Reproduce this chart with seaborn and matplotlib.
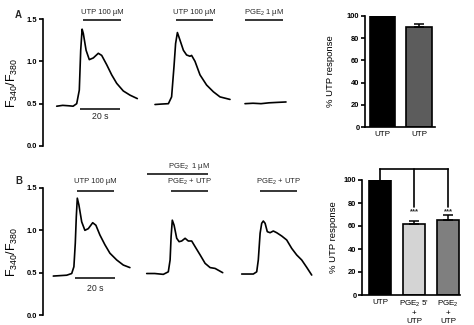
import numpy as np
import pandas as pd
import matplotlib
matplotlib.use("Agg")
import matplotlib.pyplot as plt
import seaborn as sns

# ---------------- data ----------------
# Calcium traces: time (s, relative to trace onset) and F340/F380 ratio
a1_t = [0, 3, 6, 8.2, 10, 11.3, 12, 12.7, 13.3, 14.7, 16.3, 18.3, 20.8, 22.5, 25, 27.5, 30, 33.3, 36.7, 40.3]
a1_v = [0.47, 0.48, 0.475, 0.47, 0.50, 0.66, 1.13, 1.38, 1.33, 1.13, 1.02, 1.04, 1.095, 1.07, 0.96, 0.84, 0.74, 0.65, 0.60, 0.56]
a2_t = [0, 3, 6.7, 8.3, 9.5, 10.3, 11.2, 12.5, 14.2, 15.8, 17.5, 18.3, 20, 22.5, 25.8, 29.2, 32.5, 37.5]
a2_v = [0.49, 0.495, 0.50, 0.58, 0.94, 1.21, 1.34, 1.25, 1.13, 1.075, 1.06, 1.07, 1.0, 0.84, 0.72, 0.64, 0.58, 0.55]
a3_t = [0, 4, 8, 12, 16, 20.5]
a3_v = [0.50, 0.505, 0.50, 0.51, 0.515, 0.52]

b1_t = [0, 6.7, 9.2, 10.3, 11, 11.5, 12, 12.8, 14.2, 15.8, 17.5, 19.7, 21.3, 23.3, 25.8, 28.3, 31.7, 35, 38.3]
b1_v = [0.46, 0.47, 0.49, 0.57, 0.85, 1.16, 1.38, 1.30, 1.10, 1.0, 1.02, 1.09, 1.06, 0.945, 0.83, 0.73, 0.65, 0.59, 0.56]
b2_t = [0, 4, 8.3, 10.8, 11.7, 12.2, 12.8, 13.7, 15, 16.2, 17.5, 19.2, 20.8, 22.5, 24.2, 26.7, 29.2, 31.7, 34.2, 38]
b2_v = [0.49, 0.49, 0.48, 0.51, 0.65, 0.925, 1.12, 1.06, 0.906, 0.866, 0.874, 0.906, 0.874, 0.874, 0.807, 0.71, 0.61, 0.56, 0.55, 0.50]
b3_t = [0, 5.8, 7.5, 8.3, 9.2, 10, 10.8, 11.7, 12.8, 14.2, 15.8, 17.5, 20, 22.5, 25, 27.5, 30, 32.5, 35]
b3_v = [0.484, 0.484, 0.51, 0.65, 0.965, 1.083, 1.11, 1.083, 0.984, 0.972, 0.992, 0.972, 0.933, 0.886, 0.787, 0.709, 0.65, 0.563, 0.472]

# onset of each trace on the shared time axis (s)
onset_A = [6.85, 56.0, 101.0]
onset_B = [5.15, 51.85, 99.35]

# stimulus application periods (s on the shared axis)
stimA_start = [20.0, 66.5, 101.0]
stimA_end = [39.0, 85.0, 120.0]
stimA_label = ["UTP 100 µM", "UTP 100 µM", "PGE$_2$ 1 µM"]
stimB_start = [17.0, 64.0, 108.5]
stimB_end = [35.5, 82.5, 127.0]
stimB_label = ["UTP 100 µM", "PGE$_2$ + UTP", "PGE$_2$ + UTP"]
pgeB_start = 52.0
pgeB_end = 82.5
pgeB_label = "PGE$_2$  1 µM"
scale_len = 20  # s

# bar charts: % UTP response
barA_cat = ["UTP", "UTP"]
barA_val = [100, 90.5]
barA_err = [0, 2.3]
barB_cat = ["UTP", "PGE$_2$ 5'\n+\nUTP", "PGE$_2$\n+\nUTP"]
barB_val = [100, 62, 65]
barB_err = [0, 2, 4.5]
barB_sig = ["", "***", "***"]

# ---------------- style ----------------
sns.set_theme(style="white")
plt.rcParams["font.family"] = ["Liberation Sans", "DejaVu Sans"]
plt.rcParams["mathtext.fontset"] = "custom"
plt.rcParams["mathtext.rm"] = "Liberation Sans"
plt.rcParams["mathtext.it"] = "Liberation Sans:italic"
plt.rcParams["mathtext.bf"] = "Liberation Sans:bold"

W, H = 474, 325
fig = plt.figure(figsize=(W / 100, H / 100), dpi=100)
fig.patch.set_facecolor("white")


def ax_px(x0, y0, x1, y1):
    return fig.add_axes([x0 / W, 1 - y1 / H, (x1 - x0) / W, (y1 - y0) / H])


SPW = 1.2


def style_trace_axes(ax):
    ax.set_facecolor("none")
    ax.set_xlim(0, 138.5)
    ax.set_ylim(0, 1.5)
    for s in ["top", "right", "bottom"]:
        ax.spines[s].set_visible(False)
    ax.spines["left"].set_linewidth(SPW)
    ax.spines["left"].set_color("black")
    ax.set_xticks([])
    ax.set_yticks([0, 0.5, 1.0, 1.5])
    ax.set_yticklabels(["0.0", "0.5", "1.0", "1.5"], fontsize=5.4, fontweight="bold")
    ax.tick_params(axis="y", direction="out", length=3, width=SPW, pad=1, left=True, colors="black")
    ax.set_xlabel("")
    ax.set_ylabel("F$_{340}$/F$_{380}$", fontsize=9, color="black")
    ax.yaxis.set_label_coords(-0.082, 0.5)


def draw_traces(ax, ts, vs, onsets):
    for t, v, o in zip(ts, vs, onsets):
        df = pd.DataFrame({"t": np.array(t) + o, "v": v})
        sns.lineplot(data=df, x="t", y="v", ax=ax, color="black", linewidth=1.2,
                     estimator=None, sort=False)


LBL = 5.5
# ---- A traces ----
axA = ax_px(43, 19, 320, 146)
draw_traces(axA, [a1_t, a2_t, a3_t], [a1_v, a2_v, a3_v], onset_A)
style_trace_axes(axA)
for s, e, l in zip(stimA_start, stimA_end, stimA_label):
    axA.plot([s, e], [1.488, 1.488], color="black", lw=1.1, clip_on=False, solid_capstyle="butt")
    axA.text((s + e) / 2, 1.575, l, ha="center", va="center", fontsize=LBL, clip_on=False)
axA.plot([18.5, 18.5 + scale_len], [0.437, 0.437], color="black", lw=1.1, solid_capstyle="butt")
axA.text(18.5 + scale_len / 2, 0.345, "20 s", ha="center", va="center", fontsize=6.3)

# ---- B traces ----
axB = ax_px(43, 188, 320, 315)
draw_traces(axB, [b1_t, b2_t, b3_t], [b1_v, b2_v, b3_v], onset_B)
style_trace_axes(axB)
for s, e, l in zip(stimB_start, stimB_end, stimB_label):
    axB.plot([s, e], [1.46, 1.46], color="black", lw=1.1, clip_on=False, solid_capstyle="butt")
    axB.text((s + e) / 2, 1.575, l, ha="center", va="center", fontsize=LBL, clip_on=False)
axB.plot([pgeB_start, pgeB_end], [1.665, 1.665], color="black", lw=1.1, clip_on=False, solid_capstyle="butt")
axB.text((stimB_start[1] + stimB_end[1]) / 2, 1.75, pgeB_label, ha="center", va="center",
         fontsize=LBL, clip_on=False)
axB.plot([16, 16 + scale_len], [0.437, 0.437], color="black", lw=1.1, solid_capstyle="butt")
axB.text(16 + scale_len / 2, 0.315, "20 s", ha="center", va="center", fontsize=6.3)


# ---- bar charts ----
def bar_chart(ax, cats, vals, errs, colors, width, xlim, label_x):
    ids = [f"c{i}" for i in range(len(cats))]
    df = pd.DataFrame({"id": ids, "val": vals})
    sns.barplot(data=df, x="id", y="val", hue="id", palette=dict(zip(ids, colors)),
                legend=False, ax=ax, width=width, edgecolor="black", linewidth=1.2,
                saturation=1)
    ax.errorbar(range(len(vals)), vals, yerr=[np.zeros(len(errs)), errs], fmt="none",
                ecolor="black", elinewidth=1.1, capsize=3.5, capthick=1.1)
    ax.set_ylim(0, 100)
    ax.set_xlim(*xlim)
    ax.set_facecolor("none")
    for s in ["top", "right"]:
        ax.spines[s].set_visible(False)
    for s in ["left", "bottom"]:
        ax.spines[s].set_linewidth(SPW)
        ax.spines[s].set_color("black")
    ax.set_yticks([0, 20, 40, 60, 80, 100])
    ax.set_yticklabels(["0", "20", "40", "60", "80", "100"], fontsize=5.4, fontweight="bold")
    ax.tick_params(axis="y", direction="out", length=3, width=SPW, pad=1, left=True, colors="black")
    ax.tick_params(axis="x", length=0, pad=3, colors="black")
    ax.set_xticks(range(len(cats)))
    ax.set_xticklabels(cats, fontsize=5.8, linespacing=1.15, va="top")
    ax.set_xlabel("")
    ax.set_ylabel("% UTP response", fontsize=6.8, color="black")
    ax.yaxis.set_label_coords(label_x, 0.5)


axBA = ax_px(365, 16, 435, 127)
bar_chart(axBA, barA_cat, barA_val, barA_err, ["#000000", "#5c5c5c"], 0.685,
          (-0.479, 1.438), -0.43)

axBB = ax_px(362, 180, 460, 295)
bar_chart(axBB, barB_cat, barB_val, barB_err, ["#000000", "#d4d4d4", "#7f7f7f"], 0.65,
          (-0.53, 2.35), -0.245)
top = 109.6
low = 76.5
axBB.plot([0, 0], [barB_val[0], top], color="black", lw=1.2, clip_on=False)
axBB.plot([0, 2], [top, top], color="black", lw=1.2, clip_on=False, solid_capstyle="projecting")
for i in (1, 2):
    axBB.plot([i, i], [top, low], color="black", lw=1.2, clip_on=False)
    axBB.text(i, 72.5, barB_sig[i], ha="center", va="center", fontsize=5.5, fontweight="bold")

# panel letters
fig.text(18 / W, 1 - 15 / H, "A", fontsize=7, fontweight="bold", ha="center", va="center")
fig.text(19 / W, 1 - 181 / H, "B", fontsize=7, fontweight="bold", ha="center", va="center")

fig.savefig("out.png", dpi=100, facecolor="white")
